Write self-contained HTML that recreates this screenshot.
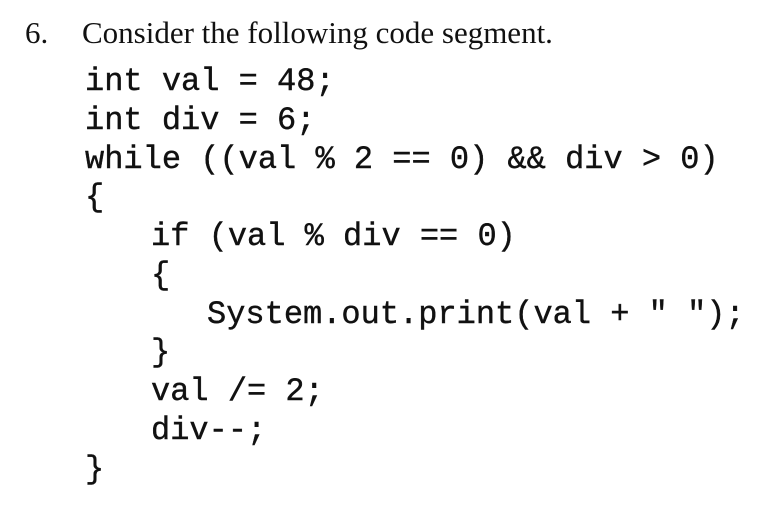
<!DOCTYPE html>
<html><head><style>
body{margin:0;width:768px;height:516px;background:#fff;position:relative;overflow:hidden;color:#111}
.h{position:absolute;font-family:"Liberation Serif",serif;font-size:31px;top:15px;white-space:pre}
.c{position:absolute;font-family:"Liberation Mono",monospace;font-size:32px;white-space:pre;line-height:38.8px;-webkit-text-stroke:0.4px #111}
</style></head><body>
<div class="h" style="left:25px">6.</div>
<div class="h" style="left:82px">Consider the following code segment.</div>
<div class="c" style="left:85px;top:63px">int val = 48;</div>
<div class="c" style="left:85px;top:102px">int div = 6;</div>
<div class="c" style="left:85px;top:141px">while ((val % 2 == 0) &amp;&amp; div &gt; 0)</div>
<div class="c" style="left:85px;top:179px">{</div>
<div class="c" style="left:151px;top:218px">if (val % div == 0)</div>
<div class="c" style="left:151px;top:257px">{</div>
<div class="c" style="left:207px;top:296px">System.out.print(val + " ");</div>
<div class="c" style="left:151px;top:334px">}</div>
<div class="c" style="left:151px;top:373px">val /= 2;</div>
<div class="c" style="left:151px;top:412px">div--;</div>
<div class="c" style="left:85px;top:451px">}</div>
</body></html>
